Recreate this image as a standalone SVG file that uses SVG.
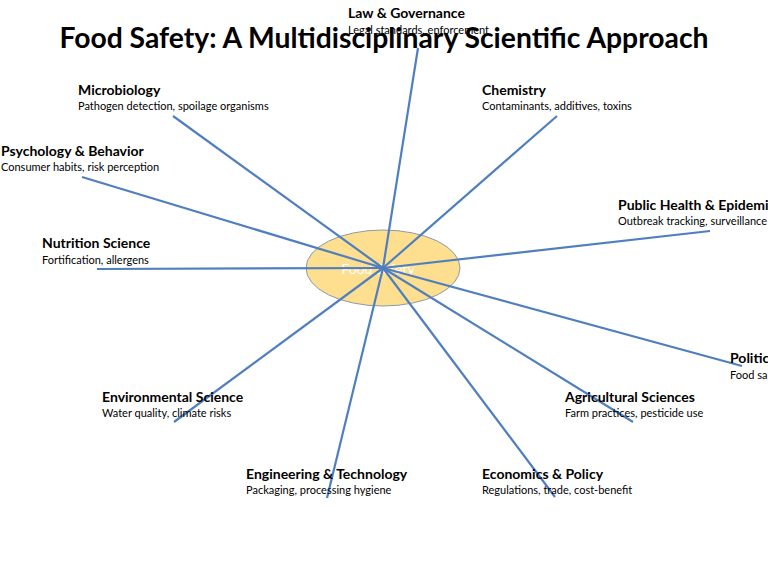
<svg xmlns="http://www.w3.org/2000/svg" width="768" height="576" viewBox="0 0 768 576">
<style>
.t{font-family:Lato,"Open Sans",sans-serif;font-weight:bold;font-size:14px;fill:#000}
.s{font-family:Lato,"Open Sans",sans-serif;font-size:11px;fill:#000}
.c line{stroke:#4f7fbf;stroke-width:2.2}
</style>
<rect width="768" height="576" fill="#fff"/>
<g id="center"><ellipse cx="383" cy="268" rx="77" ry="38" fill="#fedf8f" stroke="#8a9aa8" stroke-width="1"/>
<text x="378" y="274" text-anchor="middle" font-family="Lato,sans-serif" font-size="14" fill="#fff">Food Safety</text></g>
<g id="law"><text class="t" x="348" y="18">Law &amp; Governance</text><text class="s" x="348" y="34">Legal standards, enforcement</text></g>
<text x="384" y="48" text-anchor="middle" font-family="Lato,'Open Sans',sans-serif" font-weight="bold" font-size="28.3">Food Safety: A Multidisciplinary Scientific Approach</text>
<g class="c">
<line x1="383" y1="268" x2="418" y2="48"/>
<line x1="383" y1="268" x2="557" y2="116"/>
<line x1="383" y1="268" x2="710" y2="231"/>
<line x1="383" y1="268" x2="742" y2="366"/>
<line x1="383" y1="268" x2="633" y2="422"/>
<line x1="383" y1="268" x2="555" y2="497"/>
<line x1="383" y1="268" x2="327" y2="498"/>
<line x1="383" y1="268" x2="174" y2="422"/>
<line x1="383" y1="268" x2="97" y2="269"/>
<line x1="383" y1="268" x2="82" y2="177"/>
<line x1="383" y1="268" x2="173" y2="116"/>
</g>
<g id="micro"><text class="t" x="78" y="95">Microbiology</text><text class="s" x="78" y="110">Pathogen detection, spoilage organisms</text></g>
<g id="chem"><text class="t" x="482" y="95">Chemistry</text><text class="s" x="482" y="110">Contaminants, additives, toxins</text></g>
<g id="psych"><text class="t" x="1" y="156">Psychology &amp; Behavior</text><text class="s" x="1" y="171">Consumer habits, risk perception</text></g>
<g id="ph"><text class="t" x="618" y="210">Public Health &amp; Epidemiology</text><text class="s" x="618" y="225">Outbreak tracking, surveillance</text></g>
<g id="nutr"><text class="t" x="42" y="248">Nutrition Science</text><text class="s" x="42" y="264">Fortification, allergens</text></g>
<g id="pol"><text class="t" x="730" y="363">Politic</text><text class="s" x="730" y="379">Food sa</text></g>
<g id="env"><text class="t" x="102" y="402">Environmental Science</text><text class="s" x="102" y="417">Water quality, climate risks</text></g>
<g id="agri"><text class="t" x="565" y="402">Agricultural Sciences</text><text class="s" x="565" y="417">Farm practices, pesticide use</text></g>
<g id="eng"><text class="t" x="246" y="479">Engineering &amp; Technology</text><text class="s" x="246" y="494">Packaging, processing hygiene</text></g>
<g id="econ"><text class="t" x="482" y="479">Economics &amp; Policy</text><text class="s" x="482" y="494">Regulations, trade, cost-benefit</text></g>
</svg>
